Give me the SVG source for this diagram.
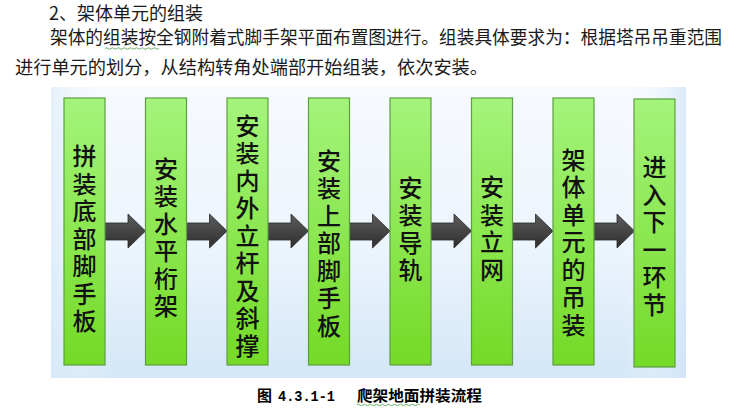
<svg xmlns="http://www.w3.org/2000/svg" width="746" height="414" viewBox="0 0 746 414">
<defs>
<linearGradient id="bg" x1="0" y1="0" x2="0" y2="1">
<stop offset="0" stop-color="#f7fafe"/>
<stop offset="0.55" stop-color="#ecf4fc"/>
<stop offset="1" stop-color="#d3e7f8"/>
</linearGradient>
<linearGradient id="bgSide" x1="0" y1="0" x2="1" y2="0">
<stop offset="0" stop-color="#d8eaf8" stop-opacity="0.6"/>
<stop offset="0.1" stop-color="#ffffff" stop-opacity="0"/>
<stop offset="0.9" stop-color="#ffffff" stop-opacity="0"/>
<stop offset="1" stop-color="#cfe4f7" stop-opacity="0.7"/>
</linearGradient>
<linearGradient id="green" x1="0" y1="0" x2="0" y2="1">
<stop offset="0" stop-color="#a4f47c"/>
<stop offset="1" stop-color="#74da26"/>
</linearGradient>
<linearGradient id="arrowFill" x1="0" y1="0" x2="0" y2="1">
<stop offset="0" stop-color="#5c5c5c"/>
<stop offset="1" stop-color="#2e2e2e"/>
</linearGradient>
<path id="arrow" d="M0,223 H23 V214 L40.5,231 L23,248 V240 H0 Z"/>
</defs>
<style>
.para{font-family:"Noto Sans CJK SC","Liberation Serif",serif;font-size:18px;fill:#1a1a1a;}
.box{fill:url(#green);stroke:#5e9e42;stroke-width:1.2;}
.lbl{font-family:"Noto Sans CJK SC","Liberation Sans",sans-serif;font-size:24px;font-weight:500;fill:#111;text-anchor:middle;writing-mode:vertical-rl;text-orientation:upright;letter-spacing:3.5px;}
.arr{fill:url(#arrowFill);stroke:#2a2a2a;stroke-width:0.8;}
.cap{font-family:"Noto Sans CJK SC","Liberation Sans",sans-serif;font-size:15px;font-weight:bold;fill:#000;}
.capnum{font-family:"Liberation Mono","Noto Sans CJK SC",monospace;font-size:15px;font-weight:bold;fill:#000;}
.wavy{fill:none;stroke:#5aa55a;stroke-width:0.9;}
</style>
<rect width="746" height="414" fill="#ffffff"/>

<g id="paragraph">
<text class="para" x="49" y="20">2、架体单元的组装</text>
<text class="para" x="50" y="44" textLength="672" lengthAdjust="spacingAndGlyphs">架体的组装按全钢附着式脚手架平面布置图进行。组装具体要求为：根据塔吊吊重范围</text>
<text class="para" x="15" y="73.5" textLength="473" lengthAdjust="spacingAndGlyphs">进行单元的划分，从结构转角处端部开始组装，依次安装。</text>
<path class="wavy" d="M105,48.5 q1.5,-1.5 3,0 t3,0 t3,0 t3,0 t3,0 t3,0 t3,0 t3,0 t3,0 t3,0 t3,0 t3,0 t3,0 t3,0 t3,0 t3,0 t3,0 t3,0"/>
</g>

<g id="panel">
<rect x="51" y="87" width="635" height="291" fill="url(#bg)"/>
<rect x="51" y="87" width="635" height="291" fill="url(#bgSide)"/>
</g>

<g id="connectors">
<use href="#arrow" class="arr" x="105"/>
<use href="#arrow" class="arr" x="186.5"/>
<use href="#arrow" class="arr" x="268"/>
<use href="#arrow" class="arr" x="349.5"/>
<use href="#arrow" class="arr" x="431"/>
<use href="#arrow" class="arr" x="512.5"/>
<use href="#arrow" class="arr" x="594"/>
</g>

<g id="node1">
<rect class="box" x="64" y="98" width="41" height="267"/>
<text class="lbl" x="84.5" y="240.5">拼装底部脚手板</text>
</g>
<g id="node2">
<rect class="box" x="145.5" y="98" width="41" height="267"/>
<text class="lbl" x="166" y="239">安装水平桁架</text>
</g>
<g id="node3">
<rect class="box" x="227" y="98" width="41" height="267"/>
<text class="lbl" x="247.5" y="237.5">安装内外立杆及斜撑</text>
</g>
<g id="node4">
<rect class="box" x="308.5" y="98" width="41" height="267"/>
<text class="lbl" x="329" y="245">安装上部脚手板</text>
</g>
<g id="node5">
<rect class="box" x="390" y="98" width="41" height="267"/>
<text class="lbl" x="410.5" y="230.5">安装导轨</text>
</g>
<g id="node6">
<rect class="box" x="471.5" y="98" width="41" height="267"/>
<text class="lbl" x="492" y="230">安装立网</text>
</g>
<g id="node7">
<rect class="box" x="553" y="98" width="41" height="267"/>
<text class="lbl" x="573.5" y="244">架体单元的吊装</text>
</g>
<g id="node8">
<rect class="box" x="634" y="99" width="41" height="268"/>
<text class="lbl" x="654.5" y="237.5">进入下一环节</text>
</g>

<g id="caption">
<text class="cap" x="257" y="400.5">图</text>
<text class="capnum" x="278" y="400.5" textLength="57" lengthAdjust="spacingAndGlyphs">4.3.1-1</text>
<text class="cap" x="357" y="400.5" textLength="125" lengthAdjust="spacingAndGlyphs">爬架地面拼装流程</text>
<path class="wavy" d="M357,405 q1.5,-1.5 3,0 t3,0 t3,0 t3,0 t3,0 t3,0 t3,0 t3,0 t3,0 t3,0 t3,0 t3,0 t3,0 t3,0 t3,0 t3,0 t3,0 t3,0 t3,0 t3,0 t3,0"/>
</g>
</svg>
